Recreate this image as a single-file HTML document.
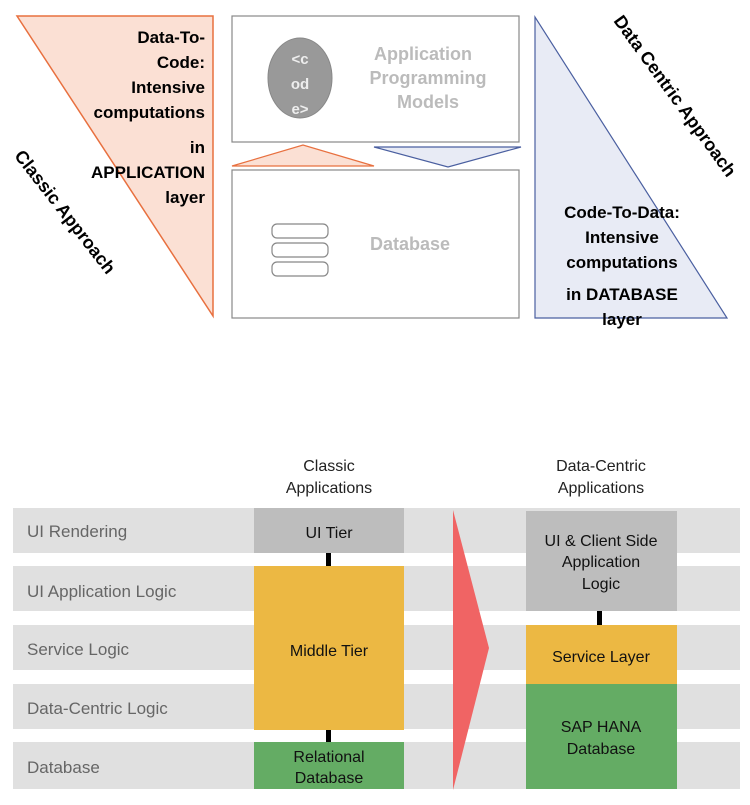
<!DOCTYPE html>
<html><head><style>body{margin:0;background:#fff}</style></head><body>
<svg width="750" height="800" xmlns="http://www.w3.org/2000/svg" font-family="Liberation Sans, Arial, sans-serif">
<polygon points="17,16 213,16 213,316" fill="#fbe0d4" stroke="#e8703f" stroke-width="1.5"/>
<polygon points="535,17 535,318 727,318" fill="#e8ebf5" stroke="#4a5fa0" stroke-width="1.2"/>
<rect x="232" y="16" width="287" height="126" fill="#fff" stroke="#888" stroke-width="1.2"/>
<rect x="232" y="170" width="287" height="148" fill="#fff" stroke="#888" stroke-width="1.2"/>
<polygon points="232,166 303,145 374,166" fill="#fbe0d4" stroke="#e8703f" stroke-width="1.2"/>
<polygon points="374,147 521,147 448,167" fill="#e8ebf5" stroke="#4a5fa0" stroke-width="1.2"/>
<ellipse cx="300" cy="78" rx="32" ry="40" fill="#999" stroke="#888"/>
<g fill="#eee" font-weight="bold" font-size="15" text-anchor="middle"><text x="300" y="64">&lt;c</text><text x="300" y="89">od</text><text x="300" y="114">e&gt;</text></g>
<g fill="#bbb" font-weight="bold" font-size="18" text-anchor="middle"><text x="423" y="60">Application</text><text x="428" y="84">Programming</text><text x="428" y="108">Models</text><text x="410" y="250">Database</text></g>
<g fill="#fff" stroke="#888" stroke-width="1.2"><rect x="272" y="224" width="56" height="14" rx="5"/><rect x="272" y="243" width="56" height="14" rx="5"/><rect x="272" y="262" width="56" height="14" rx="5"/></g>
<g font-weight="bold" font-size="17" text-anchor="end" fill="#000"><text x="205" y="43">Data-To-</text><text x="205" y="68">Code:</text><text x="205" y="93">Intensive</text><text x="205" y="118">computations</text><text x="205" y="153">in</text><text x="205" y="178">APPLICATION</text><text x="205" y="203">layer</text></g>
<g font-weight="bold" font-size="17" text-anchor="middle" fill="#000"><text x="622" y="218">Code-To-Data:</text><text x="622" y="243">Intensive</text><text x="622" y="268">computations</text><text x="622" y="300">in DATABASE</text><text x="622" y="325">layer</text></g>
<text x="65" y="218" font-weight="bold" font-size="18" text-anchor="middle" transform="rotate(52 65 212)">Classic Approach</text>
<text x="675" y="102" font-weight="bold" font-size="18" text-anchor="middle" transform="rotate(54 675 96)">Data Centric Approach</text>
<g fill="#e0e0e0"><rect x="13" y="508" width="727" height="45"/><rect x="13" y="566" width="727" height="45"/><rect x="13" y="625" width="727" height="45"/><rect x="13" y="684" width="727" height="45"/><rect x="13" y="742" width="727" height="47"/></g>
<g fill="#666" font-size="17"><text x="27" y="537">UI Rendering</text><text x="27" y="597">UI Application Logic</text><text x="27" y="655">Service Logic</text><text x="27" y="714">Data-Centric Logic</text><text x="27" y="773">Database</text></g>
<g fill="#222" font-size="16" text-anchor="middle"><text x="329" y="471">Classic</text><text x="329" y="493">Applications</text><text x="601" y="471">Data-Centric</text><text x="601" y="493">Applications</text></g>
<rect x="254" y="508" width="150" height="45" fill="#bdbdbd"/>
<rect x="254" y="566" width="150" height="164" fill="#ecb843"/>
<rect x="254" y="742" width="150" height="47" fill="#64ac64"/>
<rect x="326" y="553" width="5" height="13" fill="#000"/><rect x="326" y="730" width="5" height="12" fill="#000"/>
<rect x="526" y="511" width="151" height="100" fill="#bdbdbd"/>
<rect x="526" y="625" width="151" height="59" fill="#ecb843"/>
<rect x="526" y="684" width="151" height="105" fill="#64ac64"/>
<rect x="597" y="611" width="5" height="14" fill="#000"/>
<polygon points="453,510 489,648 453,790" fill="#f06464"/>
<g fill="#111" font-size="16" text-anchor="middle"><text x="329" y="538">UI Tier</text><text x="329" y="656">Middle Tier</text><text x="329" y="762">Relational</text><text x="329" y="783">Database</text><text x="601" y="546">UI &amp; Client Side</text><text x="601" y="567">Application</text><text x="601" y="589">Logic</text><text x="601" y="662">Service Layer</text><text x="601" y="732">SAP HANA</text><text x="601" y="754">Database</text></g>
</svg>
</body></html>
